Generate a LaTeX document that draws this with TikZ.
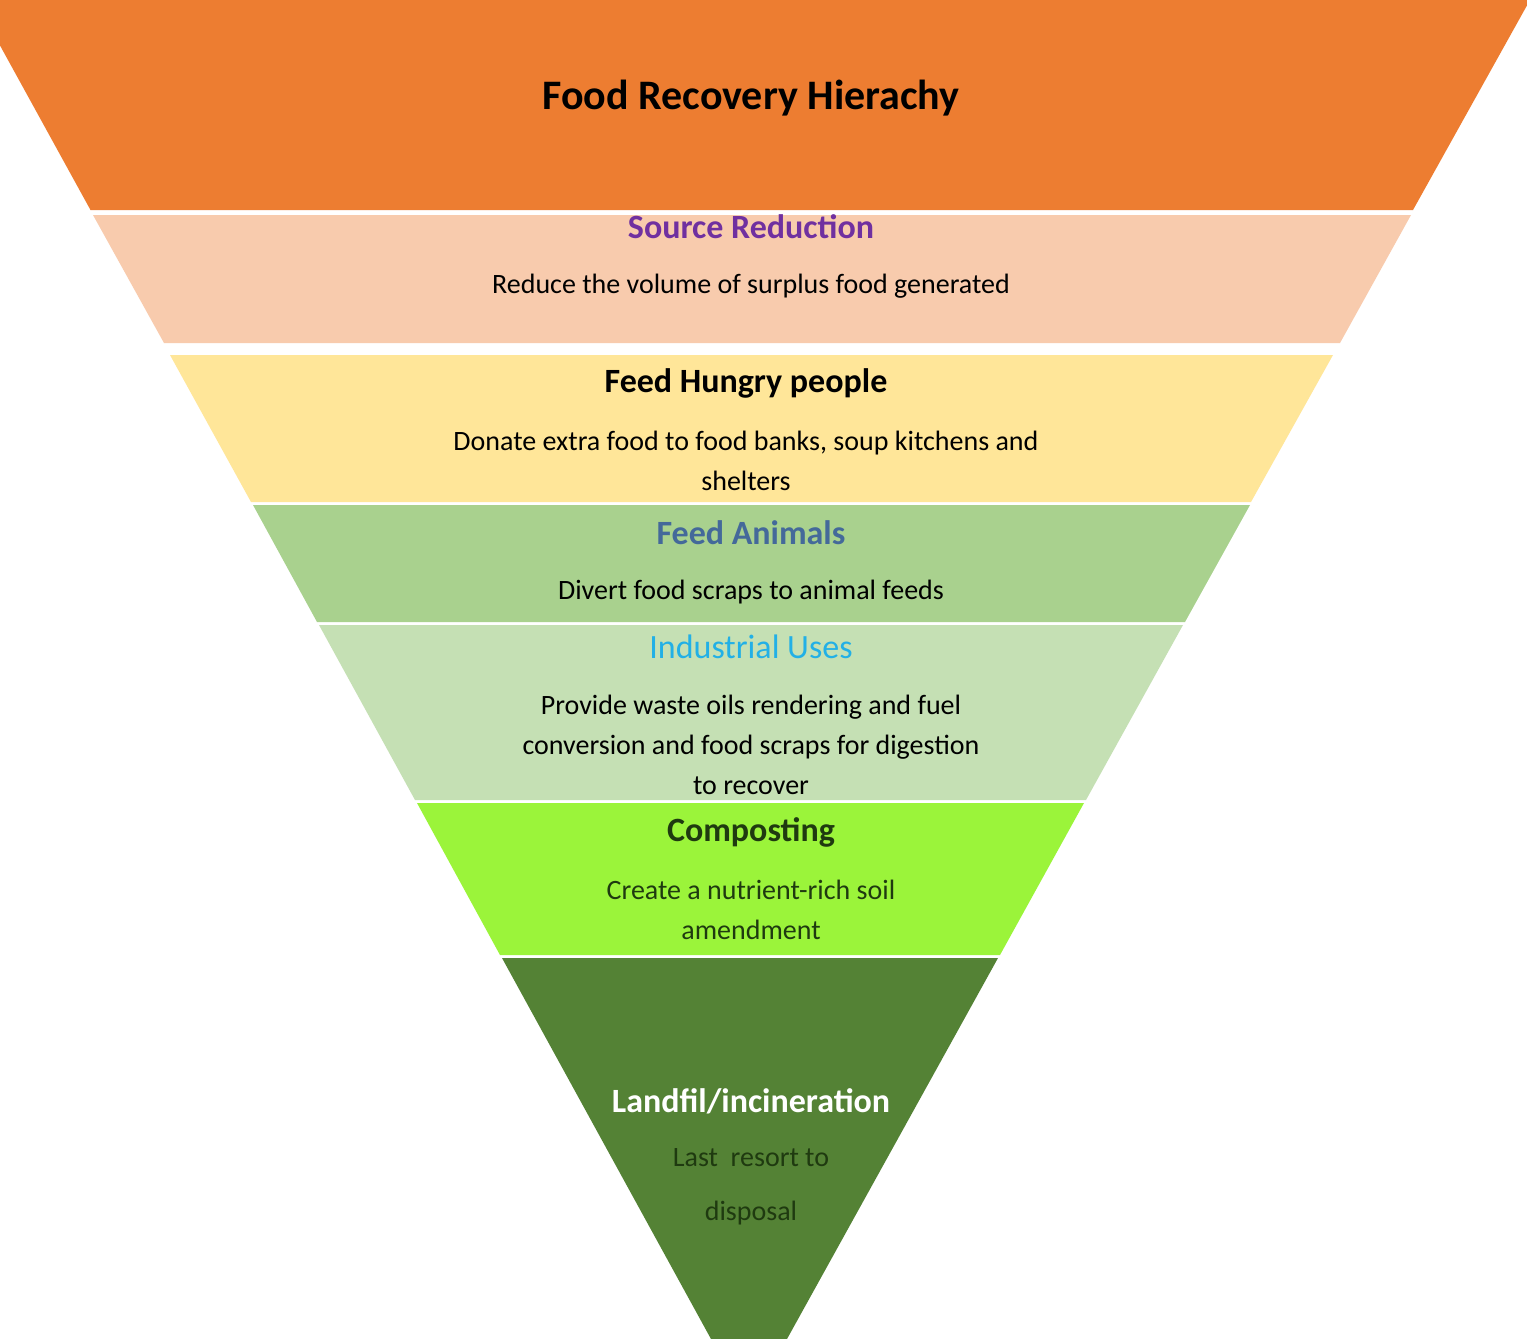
\documentclass[tikz,border=0pt]{standalone}
\usepackage{fontspec}
\setmainfont{Carlito}
\definecolor{cOr}{HTML}{ED7D31}
\definecolor{cSr}{HTML}{F8CBAD}
\definecolor{cFh}{HTML}{FFE699}
\definecolor{cFa}{HTML}{A9D18E}
\definecolor{cIu}{HTML}{C5E0B4}
\definecolor{cCo}{HTML}{9BF43A}
\definecolor{cLf}{HTML}{548235}
\definecolor{cPur}{HTML}{7030A0}
\definecolor{cBlu}{HTML}{44699A}
\definecolor{cCy}{HTML}{22B0E6}
\definecolor{cDk}{HTML}{1F3A10}
\begin{document}
\begin{tikzpicture}[x=1pt,y=-1pt,
  head/.style={font=\fontsize{34}{40}\selectfont\bfseries},
  body/.style={font=\fontsize{28}{40}\selectfont,align=center}]
\useasboundingbox[fill=white] (0,0) rectangle (1527,1339);
\fill[cOr] (-25,0) -- (1530,0) -- (1413,210) -- (90.5,210) -- cycle;
\fill[cSr] (93,215) -- (1411,215) -- (1340,343) -- (164,343) -- cycle;
\fill[cFh] (170,355) -- (1333,355) -- (1251,502) -- (251,502) -- cycle;
\fill[cFa] (253,505) -- (1250,505) -- (1185,622) -- (317,622) -- cycle;
\fill[cIu] (319,625) -- (1183,625) -- (1086,800) -- (415,800) -- cycle;
\fill[cCo] (417,803) -- (1084,803) -- (1000,955) -- (500,955) -- cycle;
\fill[cLf] (502,958) -- (998,958) -- (787,1339) -- (711,1339) -- cycle;
\node[font=\fontsize{42}{48}\selectfont\bfseries] (title) at (751,98) {Food Recovery Hierachy};
\node[head,text=cPur] (sr) at (751,227) {Source Reduction};
\node[body] (srb) at (751,286) {Reduce the volume of surplus food generated};
\node[head] (fh) at (746,383) {Feed Hungry people};
\node[body] (fhb) at (746,461) {Donate extra food to food banks, soup kitchens and\\shelters};
\node[head,text=cBlu] (fa) at (751,533) {Feed Animals};
\node[body] (fab) at (751,592) {Divert food scraps to animal feeds};
\node[head,text=cCy,font=\fontsize{34}{40}\selectfont] (iu) at (751,647) {Industrial Uses};
\node[body] (iub) at (751,745) {Provide waste oils rendering and fuel\\conversion and food scraps for digestion\\to recover};
\node[head,text=cDk] (co) at (751,832) {Composting};
\node[body,text=cDk] (cob) at (751,910) {Create a nutrient-rich soil\\amendment};
\node[head,text=white] (lf) at (751,1101) {Landfil/incineration};
\node[body,text=cDk,font=\fontsize{28}{54}\selectfont] (lfb) at (751,1187) {Last\ \ resort to\\disposal};
\end{tikzpicture}
\end{document}
